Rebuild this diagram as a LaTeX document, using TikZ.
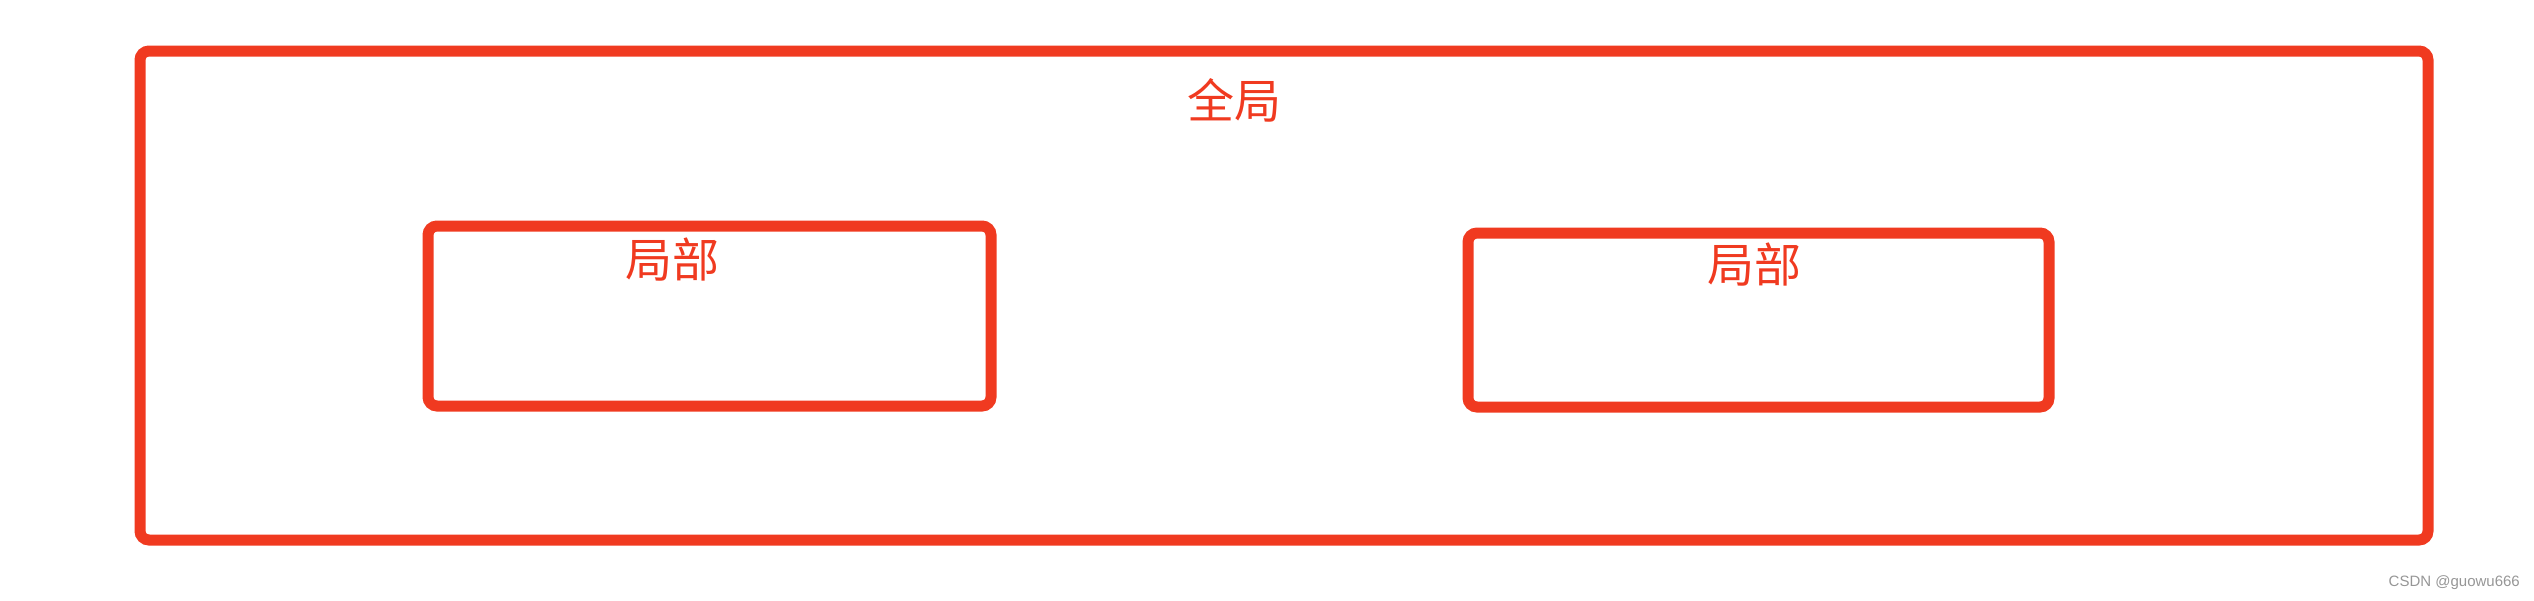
\documentclass[tikz,border=0pt]{standalone}
\usepackage{fontspec}
\newfontfamily\cjk{Noto Sans CJK SC}
\newfontfamily\wmfont{Liberation Sans}
\definecolor{boxred}{RGB}{240,58,32}
\definecolor{wmgray}{RGB}{150,150,150}
\tikzset{
  frame/.style={draw=boxred, line width=11pt, rounded corners=9pt, inner sep=0pt, fill=none},
  lbl/.style={text=boxred, font=\cjk\fontsize{47}{47}\selectfont, inner sep=0pt},
  wm/.style={text=wmgray, font=\wmfont\fontsize{15}{15}\selectfont, inner sep=0pt, anchor=east}
}
\begin{document}
\begin{tikzpicture}[x=1pt,y=-1pt]
\useasboundingbox (0,0) rectangle (2534,600);
\node[frame, minimum width=2288pt, minimum height=489pt] (outer) at (1284,295.5) {};
\node[frame, minimum width=563pt, minimum height=180pt] (left) at (709.5,316) {};
\node[frame, minimum width=581pt, minimum height=174pt] (right) at (1758.5,320) {};
\node[lbl] (tg) at (1234,100) {全局};
\node[lbl] (tl) at (672,260) {局部};
\node[lbl] (tr) at (1754,265) {局部};
\node[wm] (mark) at (2520,583) {CSDN @guowu666};
\end{tikzpicture}
\end{document}
